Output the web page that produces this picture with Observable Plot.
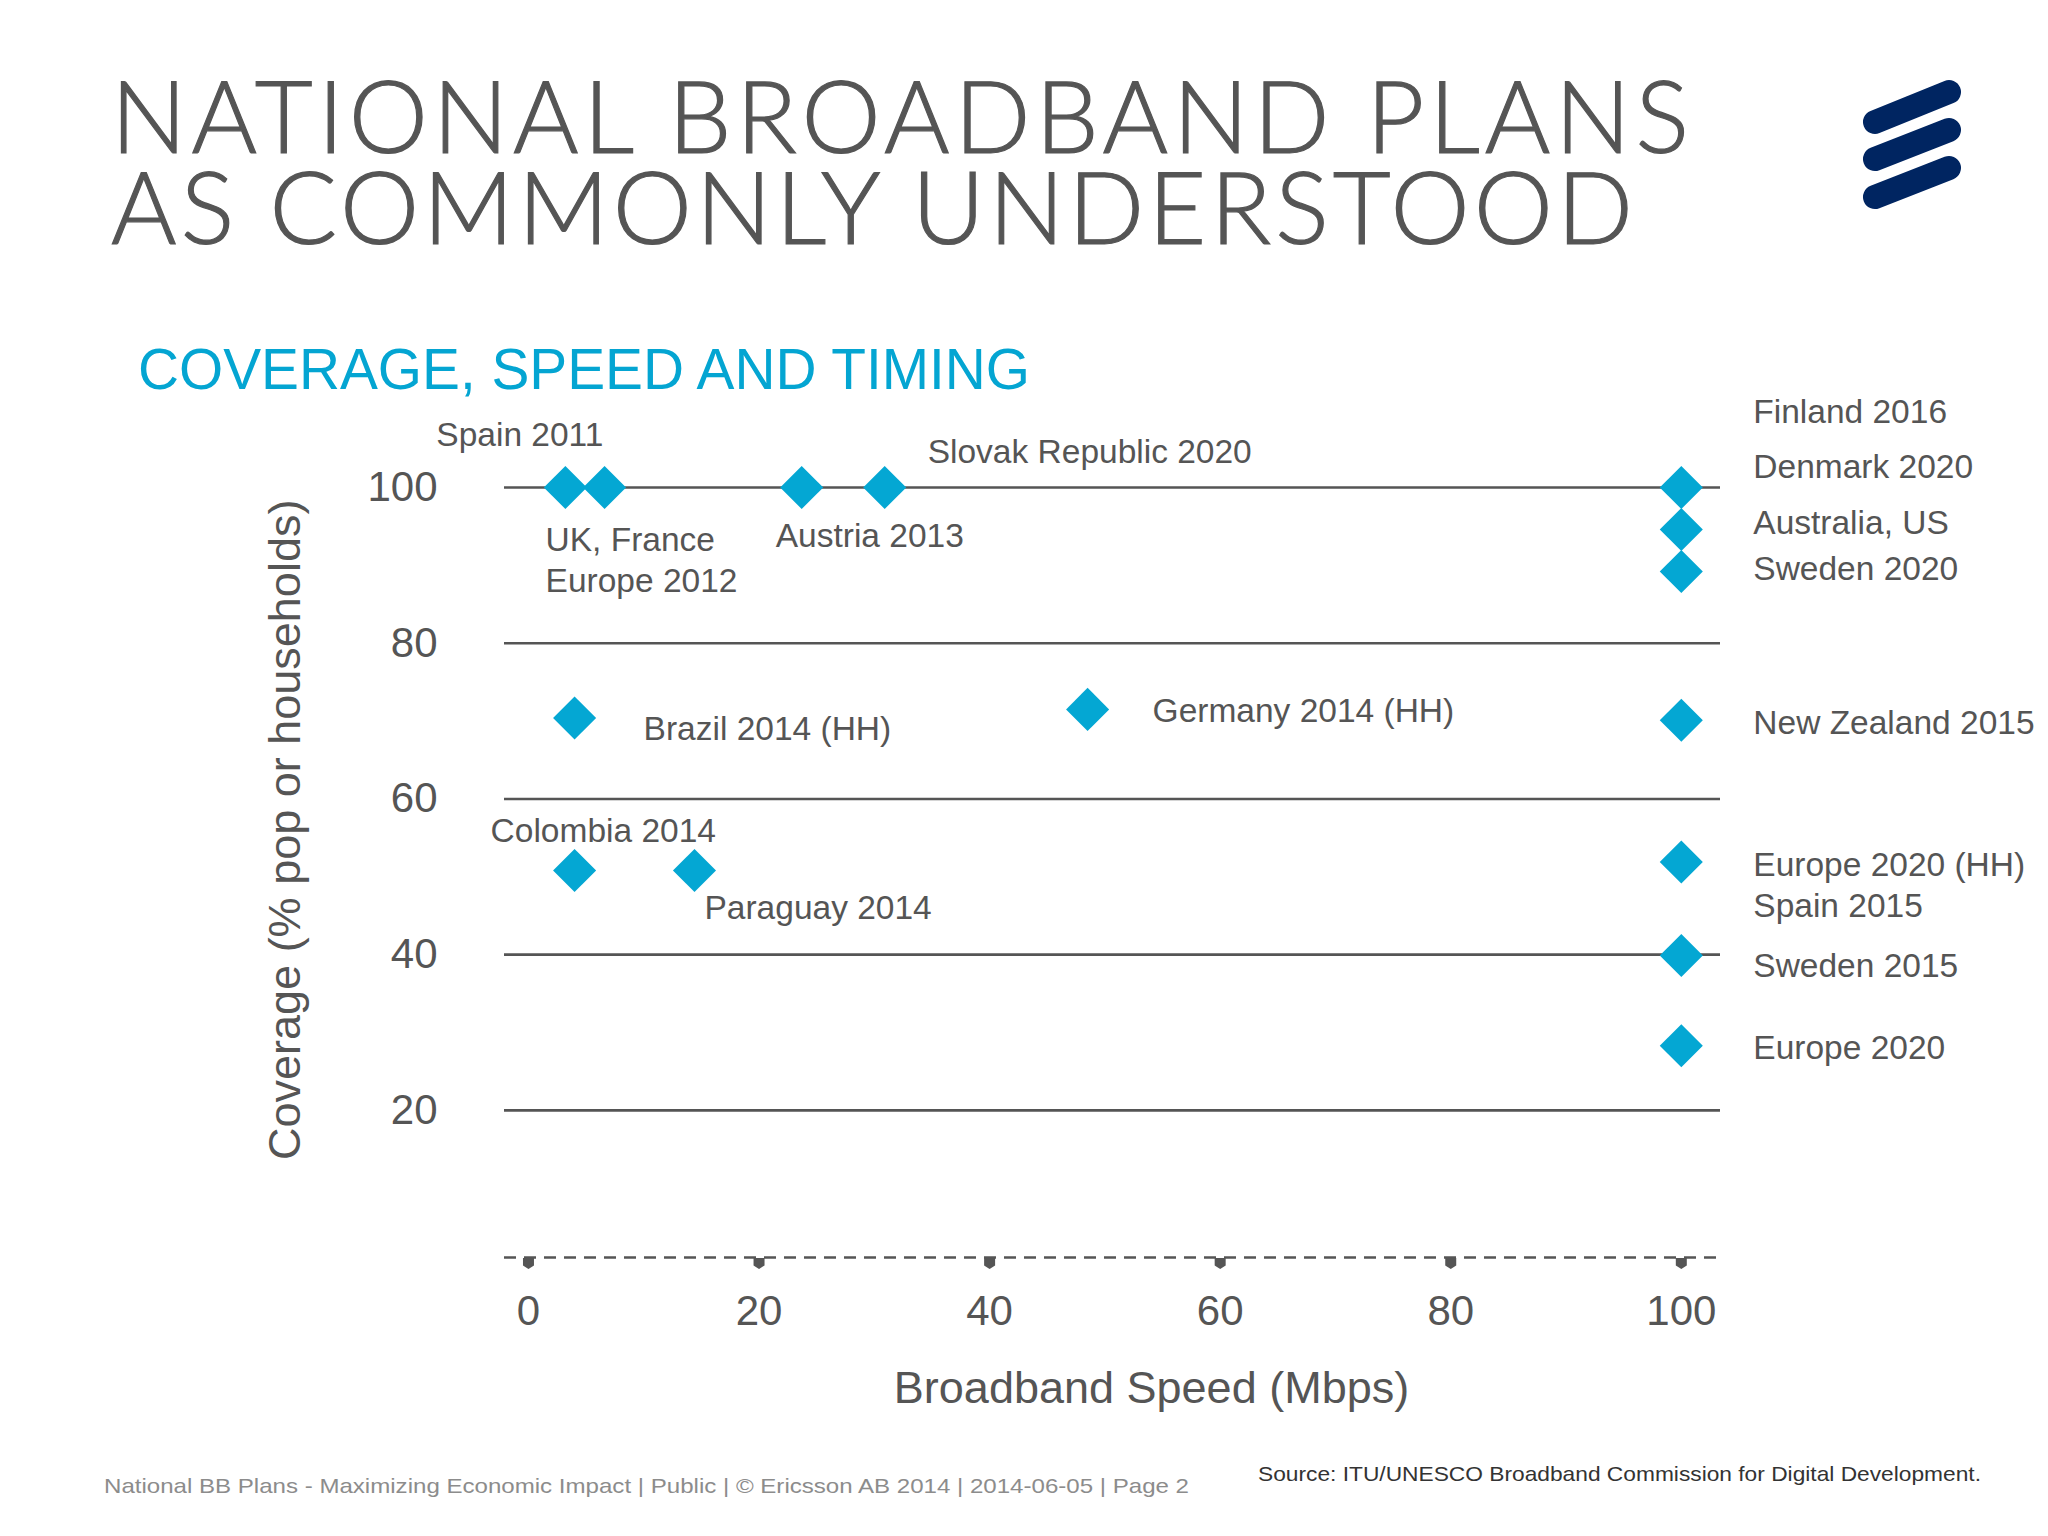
<!DOCTYPE html>
<html>
<head>
<meta charset="utf-8">
<script src="https://cdn.jsdelivr.net/npm/d3@7"></script>
<script src="https://cdn.jsdelivr.net/npm/@observablehq/plot@0.6"></script>
<style>
  html, body { margin: 0; padding: 0; background: #ffffff; }
  #page { position: relative; width: 2048px; height: 1536px; overflow: hidden; font-family: "Liberation Sans", Arial, sans-serif; }
  #overlay { position: absolute; left: 0; top: 0; }
  #chart { position: absolute; left: 0; top: 380px; }
</style>
</head>
<body>
<div id="page">
  <svg id="overlay" width="2048" height="1536" xmlns="http://www.w3.org/2000/svg">
    <text x="111" y="153" font-family="Lato, 'Noto Sans', sans-serif" font-weight="300" font-size="100" fill="#555555" stroke="#555555" stroke-width="1.2" textLength="1578" lengthAdjust="spacing">NATIONAL BROADBAND PLANS</text>
    <text x="111" y="244" font-family="Lato, 'Noto Sans', sans-serif" font-weight="300" font-size="100" fill="#555555" stroke="#555555" stroke-width="1.2" textLength="1522" lengthAdjust="spacing">AS COMMONLY UNDERSTOOD</text>
    <text x="138" y="389" font-family="'Liberation Sans', Arial, sans-serif" font-size="58" fill="#04A5D2" textLength="892" lengthAdjust="spacingAndGlyphs">COVERAGE, SPEED AND TIMING</text>
    <g stroke="#002561" stroke-width="24" stroke-linecap="round">
      <line x1="1875" y1="122" x2="1949" y2="92"></line>
      <line x1="1875" y1="159" x2="1949" y2="130"></line>
      <line x1="1875" y1="197" x2="1949" y2="168"></line>
    </g>
    <text x="104" y="1493" font-family="'Liberation Sans', Arial, sans-serif" font-size="21" fill="#8c8c8c" textLength="1085" lengthAdjust="spacingAndGlyphs">National BB Plans - Maximizing Economic Impact  |  Public  |  © Ericsson AB 2014  |  2014-06-05  |  Page 2</text>
    <text x="1258" y="1481" font-family="'Liberation Sans', Arial, sans-serif" font-size="21" fill="#333333" textLength="723" lengthAdjust="spacingAndGlyphs">Source: ITU/UNESCO Broadband Commission for Digital Development.</text>
  </svg>
  <div id="chart"></div>
</div>
<script>
// ---- Data ----
const planNames = [
  "Spain 2011", "UK, France, Europe 2012", "Austria 2013", "Slovak Republic 2020",
  "Finland 2016 / Denmark 2020", "Australia, US", "Sweden 2020",
  "Brazil 2014 (HH)", "Germany 2014 (HH)", "New Zealand 2015",
  "Colombia 2014", "Paraguay 2014", "Europe 2020 (HH) / Spain 2015",
  "Sweden 2015", "Europe 2020"
];
const speedMbps   = [3.2, 6.6, 23.7, 30.9, 100, 100, 100, 4.0, 48.5, 100, 4.0, 14.4, 100, 100, 100];
const coveragePct = [100, 100, 100, 100, 100, 94.6, 89.2, 70.4, 71.5, 70.1, 50.8, 50.8, 51.9, 39.9, 28.3];

const labelTexts = [
  "Spain 2011", "UK, France\nEurope 2012", "Austria 2013", "Slovak Republic 2020",
  "Finland 2016", "Denmark 2020", "Australia, US", "Sweden 2020",
  "Brazil 2014 (HH)", "Germany 2014 (HH)", "New Zealand 2015",
  "Colombia 2014", "Paraguay 2014", "Europe 2020 (HH)", "Spain 2015",
  "Sweden 2015", "Europe 2020"
];
const labelPlan = [0, 1, 2, 3, 4, 4, 5, 6, 7, 8, 9, 10, 11, 12, 12, 13, 14];

const xTicks = [0, 20, 40, 60, 80, 100];
const yTicks = [20, 40, 60, 80, 100];
const xTitle = "Broadband Speed (Mbps)";
const yTitle = "Coverage (% pop or households)";

// ---- Layout (label offsets in px, relative to their plan's point) ----
const labelOffsets = [
  [-129, -54], [-59, 71], [-26, 47], [43, -37],
  [72, -77], [72, -22], [72, -9], [72, -5],
  [69, 9], [65, 0], [72, 1],
  [-84, -42], [10, 35], [72, 1], [72, 42],
  [72, 9], [72, 0]
];

const points = planNames.map((name, i) => ({name, speed: speedMbps[i], coverage: coveragePct[i]}));
const labels = labelTexts.map((text, i) => ({
  text,
  speed: points[labelPlan[i]].speed,
  coverage: points[labelPlan[i]].coverage,
  dx: labelOffsets[i][0],
  dy: labelOffsets[i][1]
}));

// pin-shaped tick marker
const pin = {
  draw(ctx, size) {
    const s = Math.sqrt(size) / 2;
    ctx.moveTo(-s, -s);
    ctx.lineTo(s, -s);
    ctx.lineTo(s, s * 0.35);
    ctx.lineTo(0, s);
    ctx.lineTo(-s, s * 0.35);
    ctx.closePath();
  }
};

const GREY = "#555555";
const CYAN = "#04A7D3";
const FONT = "'Liberation Sans', Arial, sans-serif";

const chart = Plot.plot({
  width: 2048,
  height: 1050,
  marginLeft: 504,
  marginRight: 328,
  marginTop: 107,
  marginBottom: 164.4,
  x: {domain: [-2.08, 103.4]},
  y: {domain: [0, 100]},
  style: {fontFamily: FONT, background: "transparent", color: GREY, overflow: "visible"},
  marks: [
    Plot.ruleY(yTicks, {stroke: GREY, strokeWidth: 2.6}),
    Plot.ruleY([0], {stroke: GREY, strokeWidth: 2.5, strokeDasharray: "12,8", dy: -8.6}),
    Plot.dot(xTicks, {x: d => d, y: 0, symbol: pin, r: 6.2, fill: GREY, stroke: null, dy: -2.6}),
    Plot.axisX({ticks: xTicks, tickSize: 0, tickPadding: 29.5, fontSize: 42, fill: GREY, label: null}),
    Plot.axisY({ticks: yTicks, tickSize: 0, tickPadding: 67, fontSize: 42, fill: GREY, label: null}),
    Plot.text([xTitle], {frameAnchor: "bottom", text: d => d, dx: 39, dy: 122, lineAnchor: "middle", fontSize: 45, fill: GREY}),
    Plot.text([yTitle], {frameAnchor: "left", text: d => d, rotate: -90, dx: -219, dy: -47, textAnchor: "middle", lineAnchor: "middle", fontSize: 45, fill: GREY}),
    Plot.dot(points, {x: "speed", y: "coverage", symbol: "diamond2", r: 19.4, fill: CYAN, stroke: null}),
    ...labels.map(l => Plot.text([l], {
      x: "speed", y: "coverage", text: "text",
      dx: l.dx, dy: l.dy,
      textAnchor: "start", lineAnchor: "middle",
      lineHeight: 1.21, fontSize: 33.5, fill: GREY
    }))
  ]
});
document.getElementById("chart").appendChild(chart);
</script>
</body>
</html>
